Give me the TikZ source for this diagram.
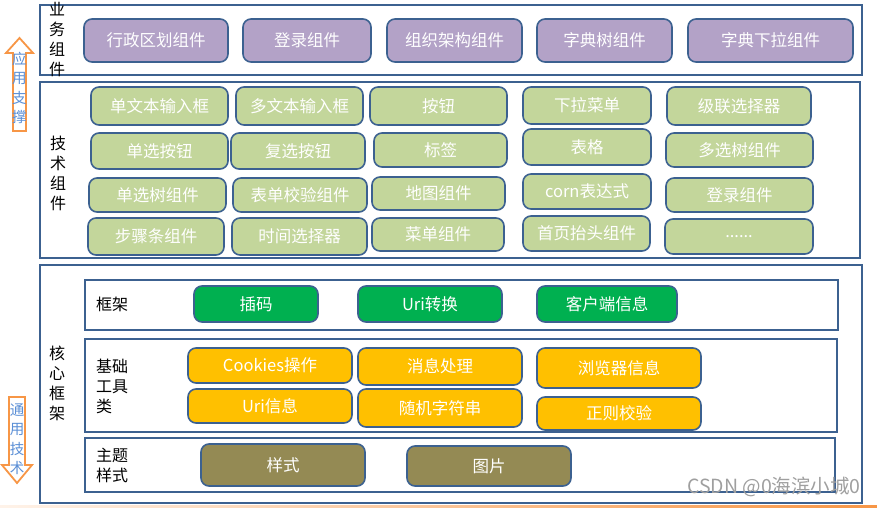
\documentclass[tikz,border=0pt]{standalone}
\usepackage{xcolor}
\usepackage{fontspec}
\setmainfont{Noto Sans CJK SC}
\usepackage{tikz}
\usetikzlibrary{arrows.meta, positioning}

\definecolor{frameblue}{HTML}{3C6190}
\definecolor{bizpurple}{HTML}{B3A2C7}
\definecolor{techgreen}{HTML}{C3D69B}
\definecolor{coregreen}{HTML}{00B050}
\definecolor{toolorange}{HTML}{FFC000}
\definecolor{themeolive}{HTML}{948A54}
\definecolor{arroworange}{HTML}{F79646}
\definecolor{arrowtext}{HTML}{5B8FD6}

\begin{document}
\begin{tikzpicture}[
  x=1pt, y=-1pt,
  font=\fontsize{16.5}{19}\selectfont,
  layer/.style={
    draw=frameblue,
    line width=1.8pt,
    inner sep=0pt
  },
  box/.style={
    draw=frameblue,
    rounded corners=8pt,
    line width=1.6pt,
    text=white,
    inner sep=0pt
  },
  bizbox/.style={box, fill=bizpurple},
  techbox/.style={box, fill=techgreen},
  corebox/.style={box, fill=coregreen},
  toolbox/.style={box, fill=toolorange},
  themebox/.style={box, fill=themeolive},
  sidelabel/.style={
    align=center,
    inner sep=0pt,
    font=\fontsize{16}{20}\selectfont
  },
  rowlabel/.style={
    align=left,
    anchor=west,
    inner sep=0pt,
    font=\fontsize{16}{20}\selectfont
  },
  flow/.style={
    draw=arroworange,
    fill=white,
    line width=1.8pt,
    line join=miter
  },
  flowlabel/.style={
    align=center,
    inner sep=0pt,
    text=arrowtext,
    font=\fontsize{14.5}{19.5}\selectfont
  }
]
\useasboundingbox (0,0) rectangle (877,508);

% footer band
\shade[left color=arroworange!12, right color=arroworange] (0,505) rectangle (877,508);

% -------------------------------------------------------------------
% layer frames
% -------------------------------------------------------------------
\node[layer, minimum width=822pt, minimum height=70pt]  (biz)   at (451,40)    {};
\node[layer, minimum width=820pt, minimum height=176pt] (tech)  at (450,170)   {};
\node[layer, minimum width=822pt, minimum height=238pt] (core)  at (451,384)   {};
\node[layer, minimum width=753pt, minimum height=50pt]  (frm)   at (461.5,305) {};
\node[layer, minimum width=752pt, minimum height=93pt]  (tools) at (461,385.5) {};
\node[layer, minimum width=750pt, minimum height=54pt]  (theme) at (460,465)   {};

% layer labels
\node[sidelabel] (bizlbl)  at (57,40)  {业\\务\\组\\件};
\node[sidelabel] (techlbl) at (58,173) {技\\术\\组\\件};
\node[sidelabel] (corelbl) at (57,383) {核\\心\\框\\架};
\node[rowlabel] (frmlbl)   at (96,304) {框架};
\node[rowlabel] (toolslbl) at (96,386) {基础\\工具\\类};
\node[rowlabel] (themelbl) at (96,465) {主题\\样式};

% -------------------------------------------------------------------
% business components
% -------------------------------------------------------------------
\node[bizbox, minimum width=144pt, minimum height=43pt] (xzqh) at (156,40.5)   {行政区划组件};
\node[bizbox, minimum width=128pt, minimum height=43pt] (dlzj) at (307,40.5)   {登录组件};
\node[bizbox, minimum width=135pt, minimum height=43pt] (zzjg) at (454.5,40.5) {组织架构组件};
\node[bizbox, minimum width=135pt, minimum height=43pt] (zds)  at (604.5,40.5) {字典树组件};
\node[bizbox, minimum width=165pt, minimum height=43pt] (zdxl) at (770.5,40.5) {字典下拉组件};

% -------------------------------------------------------------------
% technical components
% -------------------------------------------------------------------
\node[techbox, minimum width=137pt, minimum height=38pt] (dwb)  at (159.5,106)   {单文本输入框};
\node[techbox, minimum width=127pt, minimum height=38pt] (dwbs) at (299.5,106)   {多文本输入框};
\node[techbox, minimum width=137pt, minimum height=38pt] (an)   at (438.5,106)   {按钮};
\node[techbox, minimum width=128pt, minimum height=37pt] (xlcd) at (587,105.5)   {下拉菜单};
\node[techbox, minimum width=144pt, minimum height=38pt] (jlxz) at (739,106)     {级联选择器};

\node[techbox, minimum width=137pt, minimum height=36pt] (dxan) at (159.5,151)   {单选按钮};
\node[techbox, minimum width=134pt, minimum height=36pt] (fxan) at (298,151)     {复选按钮};
\node[techbox, minimum width=133pt, minimum height=34pt] (bq)   at (440.5,150)   {标签};
\node[techbox, minimum width=128pt, minimum height=36pt] (bg)   at (587,147)     {表格};
\node[techbox, minimum width=147pt, minimum height=34pt] (dxs)  at (739.5,150)   {多选树组件};

\node[techbox, minimum width=137pt, minimum height=34pt] (dxsz) at (157.5,195)   {单选树组件};
\node[techbox, minimum width=134pt, minimum height=34pt] (bdjy) at (300,195)     {表单校验组件};
\node[techbox, minimum width=133pt, minimum height=33pt] (dtzj) at (438.5,193.5) {地图组件};
\node[techbox, minimum width=128pt, minimum height=35pt] (corn) at (587,191.5)   {corn表达式};
\node[techbox, minimum width=147pt, minimum height=34pt] (dlzjb) at (739.5,195)  {登录组件};

\node[techbox, minimum width=136pt, minimum height=37pt] (bzt)  at (156,236.5)   {步骤条组件};
\node[techbox, minimum width=135pt, minimum height=37pt] (sjxz) at (299.5,236.5) {时间选择器};
\node[techbox, minimum width=132pt, minimum height=33pt] (cdzj) at (438,234.5)   {菜单组件};
\node[techbox, minimum width=127pt, minimum height=35pt] (sytt) at (586.5,233.5) {首页抬头组件};
\node[techbox, minimum width=148pt, minimum height=35pt] (more) at (739,236.5)   {......};

% -------------------------------------------------------------------
% core framework
% -------------------------------------------------------------------
\node[corebox, minimum width=124pt, minimum height=36pt] (cm)    at (256,304) {插码};
\node[corebox, minimum width=144pt, minimum height=36pt] (urizh) at (430,304) {Uri转换};
\node[corebox, minimum width=140pt, minimum height=36pt] (khd)   at (607,304) {客户端信息};

\node[toolbox, minimum width=164pt, minimum height=35pt] (cookie) at (270,365.5) {Cookies操作};
\node[toolbox, minimum width=164pt, minimum height=34pt] (urixx)  at (270,406)   {Uri信息};
\node[toolbox, minimum width=164pt, minimum height=37pt] (xxcl)   at (440,366.5) {消息处理};
\node[toolbox, minimum width=164pt, minimum height=38pt] (sjzf)   at (440,408)   {随机字符串};
\node[toolbox, minimum width=164pt, minimum height=40pt] (llq)    at (619,368)   {浏览器信息};
\node[toolbox, minimum width=164pt, minimum height=33pt] (zzjy)   at (619,413.5) {正则校验};

\node[themebox, minimum width=164pt, minimum height=42pt] (ys) at (283,465) {样式};
\node[themebox, minimum width=164pt, minimum height=40pt] (tp) at (489,466) {图片};

% -------------------------------------------------------------------
% side arrows
% -------------------------------------------------------------------
\draw[flow] (13,131) -- (13,53) -- (6,53) -- (19.5,38) -- (33,53) -- (26,53) -- (26,131) -- cycle;
\node[flowlabel] (yyzc) at (19.5,88) {应\\用\\支\\撑};

\draw[flow] (9,397) -- (9,465) -- (2,465) -- (17,483) -- (32,465) -- (25,465) -- (25,397) -- cycle;
\node[flowlabel] (tyjs) at (17,439) {通\\用\\技\\术};

% watermark
\node[anchor=east, inner sep=0pt, text=gray!75, font=\fontsize{19.5}{22}\selectfont] (mark) at (861,487) {CSDN @0海滨小城0};

\end{tikzpicture}
\end{document}
